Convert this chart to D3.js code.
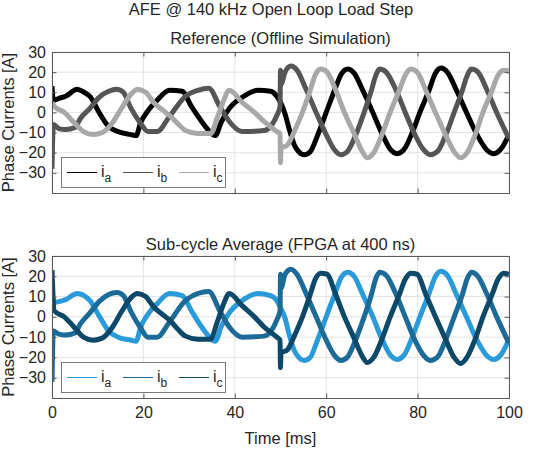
<!DOCTYPE html>
<html>
<head>
<meta charset="utf-8">
<script src="https://cdn.jsdelivr.net/npm/d3@7"></script>
<style>
  body { margin: 0; background: #fff; }
  text { font-family: "Liberation Sans", Arial, sans-serif; fill: #262626; }
</style>
</head>
<body>
<div id="chart"></div>
<script>
// sample times [ms] and phase currents [A]
const timeA = [0, 0.3, 1.5, 3, 5.5, 7, 8.3, 10.3, 12.4, 14.5, 17.3, 18.4, 19.4, 20.9, 23, 25.7, 28.5, 30.5, 32.6, 34.3, 35.7, 37.1, 38.8, 41.6, 45, 47.8, 49.2, 50,
    50.9, 52, 53, 54, 55.2, 56.5, 58, 60, 62, 63.3, 64.7, 66.1, 68, 70.2, 72.3, 74.1, 75.5, 77, 79, 80.5, 82.5, 83.8, 85.1, 86.5, 88.5, 90.7, 93, 95.1, 96.7, 98.3, 100];
const iaRef = [13, 6, 7, 8, 11.5, 10, 8, 0, -7, -9.5, -11, -11.5, -5, 0.5, 6, 11, 10.5, 3, -4, -9, -11.5, -4.5, 2, 7.5, 11, 10.5, 8, 5,
    0, -9, -16, -19.5, -21, -19.5, -12, 0, 12, 19, 21.5, 19.5, 11, 0, -11, -18.5, -20.5, -18.5, -9, 0, 11, 19, 22, 20, 11, 0, -11, -18.5, -20.5, -18, -11];
const iaFpga = [16, 7, 7.5, 8.5, 11.5, 10.5, 8, 0.5, -7, -10, -11.5, -12, -5, 1, 6.5, 11.5, 10.5, 3, -4.5, -9.5, -12, -4.5, 2, 8, 11.5, 10.5, 8, 4.5,
    0, -9.5, -16.5, -20, -21.5, -20, -12, 0, 12, 19.5, 22, 20, 11, 0, -11.5, -19, -21, -19, -9, 0, 11.5, 19.5, 22.5, 20.5, 11, 0, -11.5, -19, -21, -18.5, -11];

const timeB = [0, 0.3, 1.5, 3, 5, 6.2, 8.3, 10.3, 12.4, 14.2, 15.6, 17.3, 19.4, 21, 23, 25.7, 29.2, 31.9, 34.3, 36.7, 38.8, 41.6, 46.4, 49.2, 49.9, 50, 50.1,
    51, 52.3, 53.6, 55.5, 57.8, 60, 61.8, 63.2, 64.6, 66.5, 68.3, 69.9, 70.8, 71.7, 73.1, 75.3, 77.3, 79.4, 81.3, 82.8, 84.3, 86.2, 88, 89.8, 90.8, 91.8, 93.2, 95.2, 97.3, 100];
const ibRef = [-28, -6, -8, -8.5, -7.5, -3, 2, 7.5, 10.5, 11.5, 10, 2, -5.5, -9.5, -9.5, -2, 8, 11, 12, 3, -4.5, -9.5, -9, -1.5, 3, 21, 14,
    20, 23, 21, 12, 0, -11, -18.5, -21, -19.5, -11, 0, 11, 18, 21.5, 20, 11, 0, -11, -18.5, -21, -19.5, -11, 0, 11, 18, 21.5, 20, 11, 0, -13];
const ibFpga = [-32, -7, -8.5, -9, -8, -3.5, 2, 7.5, 11, 12, 10.5, 2.5, -5.5, -10, -10, -2.5, 8, 11.5, 12.5, 3, -5, -10, -9.5, -1.5, 3, 21, 14,
    21, 23.5, 21, 12, 0, -11.5, -19, -21.5, -20, -11, 0, 11, 18.5, 22, 20.5, 11, 0, -11.5, -19, -21.5, -20, -11, 0, 11, 18.5, 22, 20, 11, 0, -13];

const timeC = [0, 0.5, 2.7, 4.8, 6.9, 9, 11, 13.1, 15.2, 17.3, 18.7, 20.5, 22.2, 24.3, 25.7, 27.5, 29.2, 31.9, 34.7, 36.1, 37.4, 38.8, 41.6, 44.3, 46.4, 49.2, 49.9, 50, 50.1,
    51.6, 53, 54.8, 56.5, 57.6, 58.8, 60.2, 62, 64, 66.2, 67.8, 69, 70.4, 72.2, 74, 76, 77.3, 78.5, 79.9, 81.8, 83.9, 86.1, 88, 89.4, 90.8, 92.6, 94.3, 96.3, 97.6, 98.9, 100];
const icRef = [5, 3, 0, -5, -9.5, -11, -10, -5.5, 2, 9, 11.5, 10, 5, 1, -1.5, -5.5, -9, -10.5, -10.5, -3, 5, 11, 5, 0, -4.5, -9.5, -10.5, -25, -18,
    -16, -9.5, 0, 11, 18.5, 21.5, 20, 11.5, 0, -11, -19, -22.5, -20, -11, 0, 11, 18.5, 21.5, 20, 11, 0, -11, -19.5, -22.5, -20, -11, 0, 11, 18.5, 21, 20.5];
const icFpga = [23, 3, 0, -5, -10, -11.5, -10.5, -5.5, 2.5, 9.5, 11.5, 10, 5, 1, -1.5, -6, -9.5, -11, -11, -3, 5.5, 11.5, 5.5, 0, -5, -10, -11.5, -25, -18,
    -16, -9.5, 0, 11, 18.5, 21.5, 21, 11.5, 0, -11, -19, -22.5, -20, -11, 0, 11, 18.5, 21.5, 21, 11, 0, -11, -20, -23, -20, -11, 0, 11, 18.5, 21.5, 21];

const xTicks = [0, 20, 40, 60, 80, 100];
const yTicks = [-30, -20, -10, 0, 10, 20, 30];
const phaseNames = ["a", "b", "c"];

const refColors = ["#000000", "#555555", "#a8a8a8"];
const fpgaColors = ["#2a9bd8", "#1c6a97", "#0d4869"];

// constant dimensions
const W = 543, H = 450;
const margin = {left: 52, right: 34};
const plotW = W - margin.left - margin.right;
const panels = [
    {title: "Reference (Offline Simulation)", top: 52, h: 141, series: [iaRef, ibRef, icRef], colors: refColors, xLabels: false, titleY: 44},
    {title: "Sub-cycle Average (FPGA at 400 ns)", top: 256, h: 142, series: [iaFpga, ibFpga, icFpga], colors: fpgaColors, xLabels: true, titleY: 250}
];
const times = [timeA, timeB, timeC];

var svg = d3.select("#chart")
    .append("svg")
    .attr("width", W)
    .attr("height", H);

// figure title
svg.append("text")
    .attr("x", 271)
    .attr("y", 15)
    .attr("text-anchor", "middle")
    .style("font-size", "16.5px")
    .text("AFE @ 140 kHz Open Loop Load Step");

var x = d3.scaleLinear().domain([0, 100]).range([0, plotW]);

panels.forEach(function(p, k) {
    var y = d3.scaleLinear().domain([-40, 30]).range([p.h, 0]);
    var g = svg.append("g")
        .attr("transform", "translate(" + margin.left + "," + p.top + ")");

    // grid
    g.selectAll(".gx")
        .data(xTicks)
        .enter().append("line")
        .attr("x1", d => x(d)).attr("x2", d => x(d))
        .attr("y1", 0).attr("y2", p.h)
        .attr("stroke", "#e3e3e3");
    g.selectAll(".gy")
        .data(yTicks)
        .enter().append("line")
        .attr("x1", 0).attr("x2", plotW)
        .attr("y1", d => y(d)).attr("y2", d => y(d))
        .attr("stroke", "#e3e3e3");

    // clip
    svg.append("clipPath").attr("id", "clip" + k)
        .append("rect").attr("width", plotW).attr("height", p.h);

    // phase currents (thick stroke stands in for the switching ripple band)
    var line = d3.line()
        .x(d => x(d[0]))
        .y(d => y(d[1]))
        .curve(d3.curveMonotoneX);

    p.series.forEach(function(vals, j) {
        var pts = times[j].map((t, i) => [t, vals[i]]);
        g.append("path")
            .datum(pts)
            .attr("clip-path", "url(#clip" + k + ")")
            .attr("fill", "none")
            .attr("stroke", p.colors[j])
            .attr("stroke-width", 5)
            .attr("stroke-linejoin", "round")
            .attr("d", line);
    });

    // axes (box with inward ticks)
    var tickLen = 4.5;
    var xb = g.append("g").call(d3.axisBottom(x).tickValues(xTicks).tickSize(-tickLen).tickFormat(p.xLabels ? d3.format("d") : ""))
        .attr("transform", "translate(0," + p.h + ")");
    g.append("g").call(d3.axisTop(x).tickValues(xTicks).tickSize(-tickLen).tickFormat(""));
    var yl = g.append("g").call(d3.axisLeft(y).tickValues(yTicks).tickSize(-tickLen).tickFormat(d3.format("d")));
    g.append("g").call(d3.axisRight(y).tickValues(yTicks).tickSize(-tickLen).tickFormat(""))
        .attr("transform", "translate(" + plotW + ",0)");
    g.selectAll(".domain").attr("stroke", "#5a5a5a");
    g.selectAll(".tick line").attr("stroke", "#5a5a5a");
    g.selectAll(".tick text")
        .style("font-size", "16px")
        .attr("fill", "#262626");
    yl.selectAll(".tick text").attr("x", -6);
    xb.selectAll(".tick text").attr("y", 9);

    // panel title
    svg.append("text")
        .attr("x", margin.left + plotW / 2)
        .attr("y", p.titleY)
        .attr("text-anchor", "middle")
        .style("font-size", "16.5px")
        .text(p.title);

    // Y-axis label
    svg.append("text")
        .attr("transform", "translate(14," + (p.top + p.h / 2) + ") rotate(-90)")
        .attr("text-anchor", "middle")
        .style("font-size", "16.5px")
        .text("Phase Currents [A]");

    // legend
    var lg = g.append("g").attr("transform", "translate(9," + (p.h - 36) + ")");
    lg.append("rect")
        .attr("x", 0.5).attr("y", 0.5)
        .attr("width", 164).attr("height", 30)
        .attr("fill", "#fff")
        .attr("stroke", "#5a5a5a")
        .attr("stroke-width", 0.8);
    phaseNames.forEach(function(n, j) {
        var ox = 6 + j * 56;
        lg.append("line")
            .attr("x1", ox).attr("x2", ox + 30)
            .attr("y1", 15.5).attr("y2", 15.5)
            .attr("stroke", p.colors[j])
            .attr("stroke-width", 1);
        var t = lg.append("text")
            .attr("x", ox + 34)
            .attr("y", 20)
            .style("font-size", "16px");
        t.append("tspan").text("i");
        t.append("tspan").attr("dy", 5).style("font-size", "12px").text(n);
    });
});

// X-axis label
svg.append("text")
    .attr("x", margin.left + plotW / 2)
    .attr("y", 444)
    .attr("text-anchor", "middle")
    .style("font-size", "16.5px")
    .text("Time [ms]");
</script>
</body>
</html>
